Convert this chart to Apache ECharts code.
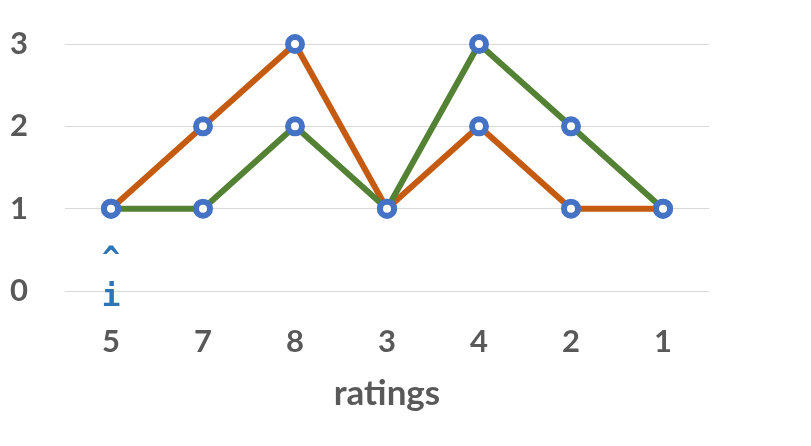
<!DOCTYPE html>
<html><head><meta charset="utf-8">
<script src="https://cdn.jsdelivr.net/npm/echarts@6/dist/echarts.min.js"></script>
<style>html,body{margin:0;padding:0;background:#fff}#c{width:811px;height:446px}</style>
</head><body><div id="c"></div>
<script>
const categories = ['5','7','8','3','4','2','1'];
const orangeValues = [1,2,3,1,2,1,1];
const greenValues = [1,1,2,1,3,2,1];
const yTicks = [0,1,2,3];
const xAxisName = 'ratings';

const font = 'Lato, "Open Sans", sans-serif';
const mono = '"DejaVu Sans Mono", monospace';
const chart = echarts.init(document.getElementById('c'));
const markerStyle = {color:'#ffffff', borderColor:'#4472C4', borderWidth:6, opacity:1};
chart.setOption({
  animation:false,
  grid:{left:65,right:102,top:44,bottom:155,containLabel:false},
  xAxis:{type:'category',data:categories,boundaryGap:true,
    axisLine:{show:false},axisTick:{show:false},
    axisLabel:{color:'#595959',fontSize:31,fontWeight:'bold',fontFamily:font,margin:35},
    name:xAxisName,nameLocation:'middle',nameGap:85,
    nameTextStyle:{color:'#595959',fontSize:35,fontWeight:'bold',fontFamily:font}},
  yAxis:{type:'value',min:yTicks[0],max:yTicks[yTicks.length-1],interval:1,
    axisLine:{show:false},axisTick:{show:false},
    axisLabel:{color:'#595959',fontSize:31,fontWeight:'bold',fontFamily:font,margin:55,align:'left'},
    splitLine:{lineStyle:{color:'#D9D9D9',width:1}}},
  series:[
    {type:'line',data:orangeValues,showSymbol:false,lineStyle:{color:'#C55A11',width:6},z:2,
     markPoint:{symbol:'circle',symbolSize:1,itemStyle:{color:'transparent'},
       data:[
        {coord:[0,0.5],label:{show:true,formatter:'^',color:'#2E75B6',fontSize:30,fontWeight:'bold',fontFamily:mono,position:'inside',offset:[0,10]}},
        {coord:[0,0],label:{show:true,formatter:'i',color:'#2E75B6',fontSize:31,fontWeight:'bold',fontFamily:mono,position:'inside',offset:[0,7]}}
       ]}},
    {type:'line',data:greenValues,showSymbol:false,lineStyle:{color:'#548235',width:6},z:3},
    {type:'scatter',data:orangeValues,symbol:'circle',symbolSize:14,itemStyle:markerStyle,z:5},
    {type:'scatter',data:greenValues,symbol:'circle',symbolSize:14,itemStyle:markerStyle,z:5}
  ]
});
</script></body></html>
